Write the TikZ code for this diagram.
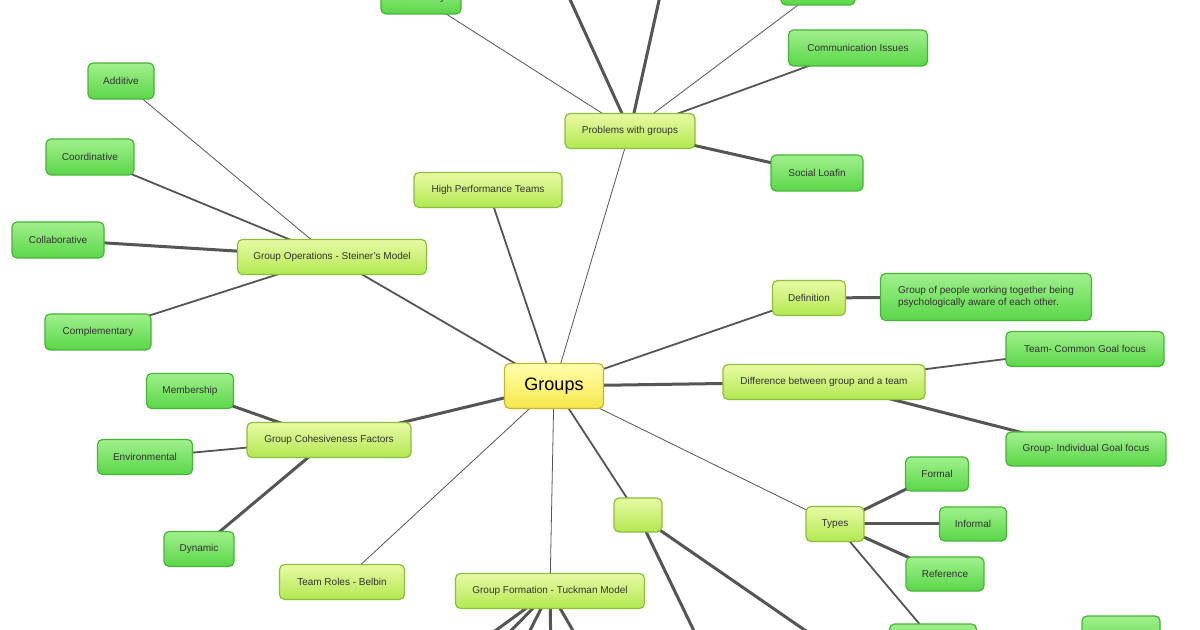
\documentclass[tikz,border=0pt]{standalone}
\usepackage{fontspec}
\setmainfont{Liberation Sans}
\definecolor{limeT}{RGB}{232,250,165}
\definecolor{limeB}{RGB}{178,232,80}
\definecolor{limeD}{RGB}{140,190,60}
\definecolor{grnT}{RGB}{160,240,140}
\definecolor{grnB}{RGB}{90,214,72}
\definecolor{grnD}{RGB}{70,180,55}
\definecolor{ylwT}{RGB}{255,255,175}
\definecolor{ylwB}{RGB}{245,230,70}
\definecolor{ylwD}{RGB}{200,180,50}
\definecolor{edge}{RGB}{85,85,85}
\definecolor{txt}{RGB}{50,50,50}
\begin{document}
\begin{tikzpicture}[x=0.5pt,y=-0.5pt,
 box/.style={rounded corners=2.5pt,draw,line width=0.6pt,font=\fontsize{5}{6}\selectfont,text=txt,inner sep=0pt,align=left},
 lime/.style={box,top color=limeT,bottom color=limeB,draw=limeD},
 grn/.style={box,top color=grnT,bottom color=grnB,draw=grnD},
 ylw/.style={box,top color=ylwT,bottom color=ylwB,draw=ylwD,text=black,font=\fontsize{9}{10}\selectfont},
 e/.style={draw=edge},
 thin/.style={e,line width=0.4pt},
 med/.style={e,line width=0.9pt},
 thk/.style={e,line width=1.5pt}]
\useasboundingbox (0,0) rectangle (1200,630);
\fill[white] (0,0) rectangle (1200,630);
\newcommand\B[6]{\node[#1,minimum width=#4*0.5pt,minimum height=#5*0.5pt] (#2) at #3 {#6};}
% off-page coordinates
\coordinate (p1) at (552,-40); \coordinate (p2) at (668,-40);
\coordinate (t1) at (455,660); \coordinate (t2) at (482,660); \coordinate (t3) at (515,660);
\coordinate (t4) at (551,660); \coordinate (t5) at (590,660);
\coordinate (m1) at (708,660); \coordinate (m2) at (848,660);
% edges
\draw[thin] (554,386) -- (630,131);
\draw[med] (554,386) -- (488,190);
\draw[med] (554,386) -- (332,257);
\draw[thk] (554,386) -- (329,440);
\draw[thin] (554,386) -- (342,582);
\draw[thin] (554,386) -- (550,591);
\draw[med] (554,386) -- (638,515);
\draw[thin] (554,386) -- (835,524);
\draw[med] (554,386) -- (809,298);
\draw[thk] (554,386) -- (824,382);
\draw[thin] (630,131) -- (421,-2);
\draw[thk] (630,131) -- (p1);
\draw[thk] (630,131) -- (p2);
\draw[thin] (630,131) -- (818,-10);
\draw[med] (630,131) -- (858,48);
\draw[thk] (630,131) -- (817,173);
\draw[thin] (332,257) -- (121,81);
\draw[thk] (332,257) -- (310,240);
\draw[med] (332,257) -- (90,157);
\draw[thk] (332,257) -- (58,240);
\draw[med] (332,257) -- (98,332);
\draw[thk] (809,298) -- (986,297);
\draw[med] (824,382) -- (1085,349);
\draw[thk] (824,382) -- (1086,449);
\draw[thk] (329,440) -- (190,391);
\draw[med] (329,440) -- (145,457);
\draw[thk] (329,440) -- (199,549);
\draw[thk] (550,591) -- (t1); \draw[thk] (550,591) -- (t2); \draw[thk] (550,591) -- (t3);
\draw[thk] (550,591) -- (t4); \draw[thk] (550,591) -- (t5);
\draw[thk] (638,515) -- (m1); \draw[thk] (638,515) -- (m2);
\draw[thk] (835,524) -- (937,474);
\draw[thk] (835,524) -- (973,524);
\draw[thk] (835,524) -- (945,574);
\draw[med] (835,524) -- (933,640);
% nodes
\B{ylw}{groups}{(554,386)}{99}{45}{Groups}
\B{lime}{prob}{(630,131)}{130}{35}{Problems with groups}
\B{grn}{conf}{(421,-2)}{80}{32}{Conformity}
\B{grn}{tr}{(818,-12)}{74}{34}{}
\B{grn}{comm}{(858,48)}{139}{36}{Communication Issues}
\B{grn}{soc}{(817,173)}{92}{36}{Social Loafin}
\B{lime}{hpt}{(488,190)}{148}{35}{High Performance Teams}
\B{lime}{steiner}{(332,257)}{189}{35}{Group Operations - Steiner's Model}
\B{grn}{add}{(121,81)}{66}{36}{Additive}
\B{grn}{coord}{(90,157)}{88}{36}{Coordinative}
\B{grn}{coll}{(58,240)}{92}{36}{Collaborative}
\B{grn}{comp}{(98,332)}{106}{36}{Complementary}
\B{lime}{def}{(809,298)}{73}{35}{Definition}
\B{grn}{gop}{(986,297)}{211}{47}{Group of people working together being\\psychologically aware of each other.}
\B{lime}{diff}{(824,382)}{202}{35}{Difference between group and a team}
\B{grn}{tcg}{(1085,349)}{158}{35}{Team- Common Goal focus}
\B{grn}{gig}{(1086,449)}{160}{34}{Group- Individual Goal focus}
\B{lime}{coh}{(329,440)}{164}{35}{Group Cohesiveness Factors}
\B{grn}{mem}{(190,391)}{87}{35}{Membership}
\B{grn}{env}{(145,457)}{95}{35}{Environmental}
\B{grn}{dyn}{(199,549)}{70}{35}{Dynamic}
\B{lime}{belbin}{(342,582)}{125}{35}{Team Roles - Belbin}
\B{lime}{tuck}{(550,591)}{189}{35}{Group Formation - Tuckman Model}
\B{lime}{empty}{(638,515)}{48}{34}{}
\B{lime}{types}{(835,524)}{58}{35}{Types}
\B{grn}{formal}{(937,474)}{63}{34}{Formal}
\B{grn}{inf}{(973,524)}{67}{34}{Informal}
\B{grn}{ref}{(945,574)}{78}{34}{Reference}
\B{grn}{b1}{(933,642)}{87}{36}{}
\B{grn}{b2}{(1121,634)}{78}{36}{}
\end{tikzpicture}
\end{document}
